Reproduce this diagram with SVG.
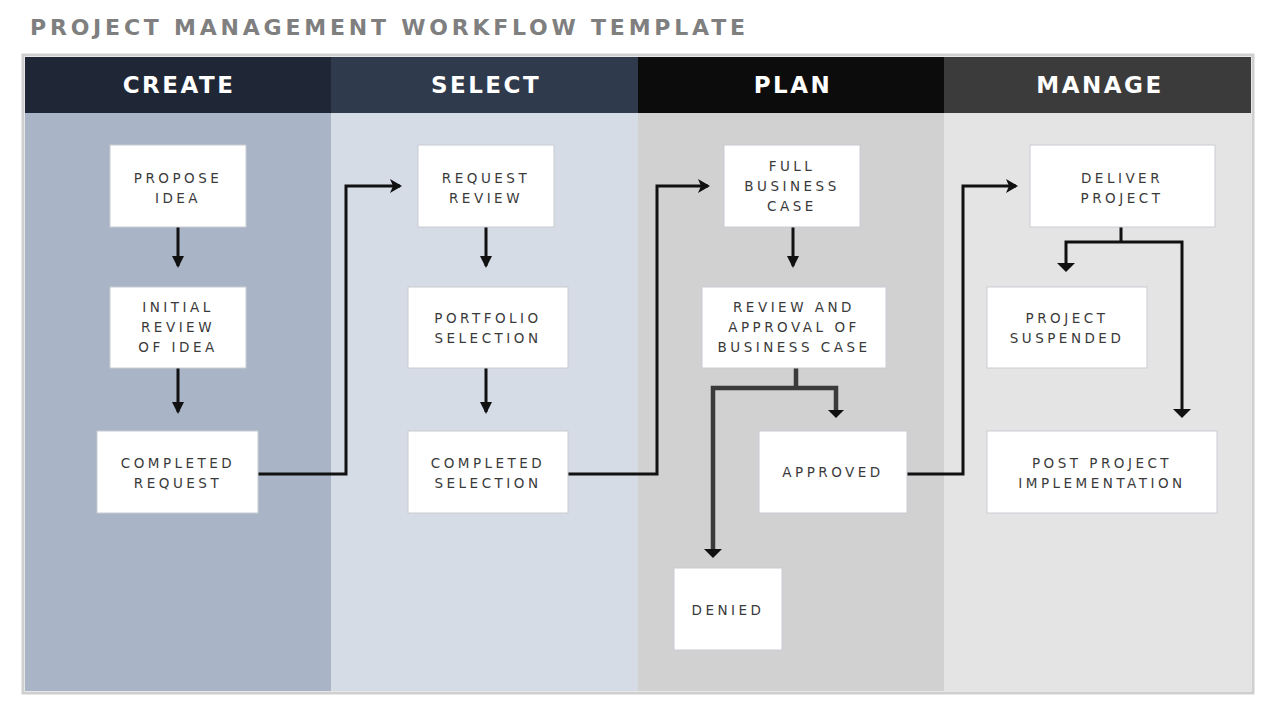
<svg xmlns="http://www.w3.org/2000/svg" width="1280" height="720" viewBox="0 0 1280 720">
<style>
.title{font-family:"DejaVu Sans",sans-serif;font-weight:bold;font-size:22px;fill:#7f7f7f}
.hdr{font-family:"DejaVu Sans",sans-serif;font-weight:bold;font-size:23px;fill:#ffffff;text-anchor:middle;letter-spacing:2.5px}
.box{fill:#ffffff;stroke:#c9ccd2;stroke-width:1}
.lbl{font-family:"DejaVu Sans",sans-serif;font-size:13.5px;fill:#3a3a3a;text-anchor:middle;letter-spacing:3.5px}
.ln{fill:none;stroke:#111;stroke-width:3}
.ln2{fill:none;stroke:#3a3a3a;stroke-width:4.5}
</style>
<defs>
<marker id="ah" markerWidth="16" markerHeight="14" refX="10" refY="7" orient="auto" markerUnits="userSpaceOnUse">
<path d="M0,0 L12,7 L0,14 L3,7 z" fill="#111"/>
</marker>
<marker id="ahd" markerWidth="18" markerHeight="12" refX="10" refY="6" orient="auto" markerUnits="userSpaceOnUse">
<path d="M0,0 L12,6 L0,12 z" fill="#111"/>
</marker>
</defs>
<rect width="1280" height="720" fill="#ffffff"/>
<text class="title" x="30" y="35" textLength="715" lengthAdjust="spacing">PROJECT MANAGEMENT WORKFLOW TEMPLATE</text>
<rect x="23" y="55" width="1230" height="638" fill="none" stroke="#cfcfcf" stroke-width="3"/>
<g id="columns">
<rect x="25" y="57" width="306" height="56" fill="#1f2636"/>
<rect x="25" y="113" width="306" height="578" fill="#a9b4c7"/>
<rect x="331" y="57" width="307" height="56" fill="#2f3a4d"/>
<rect x="331" y="113" width="307" height="578" fill="#d5dce6"/>
<rect x="638" y="57" width="306" height="56" fill="#0c0c0c"/>
<rect x="638" y="113" width="306" height="578" fill="#d1d1d1"/>
<rect x="944" y="57" width="307" height="56" fill="#3b3b3b"/>
<rect x="944" y="113" width="307" height="578" fill="#e4e4e4"/>
<text class="hdr" x="179" y="93">CREATE</text>
<text class="hdr" x="486" y="93">SELECT</text>
<text class="hdr" x="793" y="93">PLAN</text>
<text class="hdr" x="1100" y="93">MANAGE</text>
</g>
<g id="connectors">
<line class="ln" x1="178" y1="227" x2="178" y2="266" marker-end="url(#ahd)"/>
<line class="ln" x1="178" y1="368" x2="178" y2="412" marker-end="url(#ahd)"/>
<polyline class="ln" points="258,474 346,474 346,186 400,186" marker-end="url(#ah)"/>
<line class="ln" x1="486" y1="227" x2="486" y2="266" marker-end="url(#ahd)"/>
<line class="ln" x1="486" y1="368" x2="486" y2="412" marker-end="url(#ahd)"/>
<polyline class="ln" points="568,474 657,474 657,186 708,186" marker-end="url(#ah)"/>
<line class="ln" x1="793" y1="227" x2="793" y2="266" marker-end="url(#ahd)"/>
<line class="ln2" x1="796" y1="368" x2="796" y2="388"/>
<polyline class="ln2" points="836,414 836,388 713,388 713,552" />
<path d="M828,410 L844,410 L836,418 z" fill="#111"/>
<path d="M704,549 L722,549 L713,558 z" fill="#111"/>
<polyline class="ln" points="907,474 963,474 963,186 1016,186" marker-end="url(#ah)"/>
<line class="ln" x1="1121" y1="227" x2="1121" y2="242"/>
<polyline class="ln" points="1066,266 1066,242 1182,242 1182,412"/>
<path d="M1057,263 L1075,263 L1066,272 z" fill="#111"/>
<path d="M1173,409 L1191,409 L1182,418 z" fill="#111"/>
</g>
<g id="propose-idea"><rect class="box" x="110" y="145" width="136" height="82"/><text class="lbl" x="178" y="183">PROPOSE</text><text class="lbl" x="178" y="203">IDEA</text></g>
<g id="initial-review"><rect class="box" x="110" y="287" width="136" height="81"/><text class="lbl" x="178" y="312">INITIAL</text><text class="lbl" x="178" y="332">REVIEW</text><text class="lbl" x="178" y="352">OF IDEA</text></g>
<g id="completed-request"><rect class="box" x="97" y="431" width="161" height="82"/><text class="lbl" x="178" y="468">COMPLETED</text><text class="lbl" x="178" y="488">REQUEST</text></g>
<g id="request-review"><rect class="box" x="418" y="145" width="136" height="82"/><text class="lbl" x="486" y="183">REQUEST</text><text class="lbl" x="486" y="203">REVIEW</text></g>
<g id="portfolio-selection"><rect class="box" x="408" y="287" width="160" height="81"/><text class="lbl" x="488" y="323">PORTFOLIO</text><text class="lbl" x="488" y="343">SELECTION</text></g>
<g id="completed-selection"><rect class="box" x="408" y="431" width="160" height="82"/><text class="lbl" x="488" y="468">COMPLETED</text><text class="lbl" x="488" y="488">SELECTION</text></g>
<g id="full-business-case"><rect class="box" x="724" y="145" width="136" height="82"/><text class="lbl" x="792" y="171">FULL</text><text class="lbl" x="792" y="191">BUSINESS</text><text class="lbl" x="792" y="211">CASE</text></g>
<g id="review-approval"><rect class="box" x="702" y="287" width="184" height="81"/><text class="lbl" x="794" y="312">REVIEW AND</text><text class="lbl" x="794" y="332">APPROVAL OF</text><text class="lbl" x="794" y="352">BUSINESS CASE</text></g>
<g id="approved"><rect class="box" x="759" y="431" width="148" height="82"/><text class="lbl" x="833" y="477">APPROVED</text></g>
<g id="denied"><rect class="box" x="674" y="568" width="108" height="82"/><text class="lbl" x="728" y="615">DENIED</text></g>
<g id="deliver-project"><rect class="box" x="1030" y="145" width="185" height="82"/><text class="lbl" x="1122" y="183">DELIVER</text><text class="lbl" x="1122" y="203">PROJECT</text></g>
<g id="project-suspended"><rect class="box" x="987" y="287" width="160" height="81"/><text class="lbl" x="1067" y="323">PROJECT</text><text class="lbl" x="1067" y="343">SUSPENDED</text></g>
<g id="post-project"><rect class="box" x="987" y="431" width="230" height="82"/><text class="lbl" x="1102" y="468">POST PROJECT</text><text class="lbl" x="1102" y="488">IMPLEMENTATION</text></g>
</svg>
